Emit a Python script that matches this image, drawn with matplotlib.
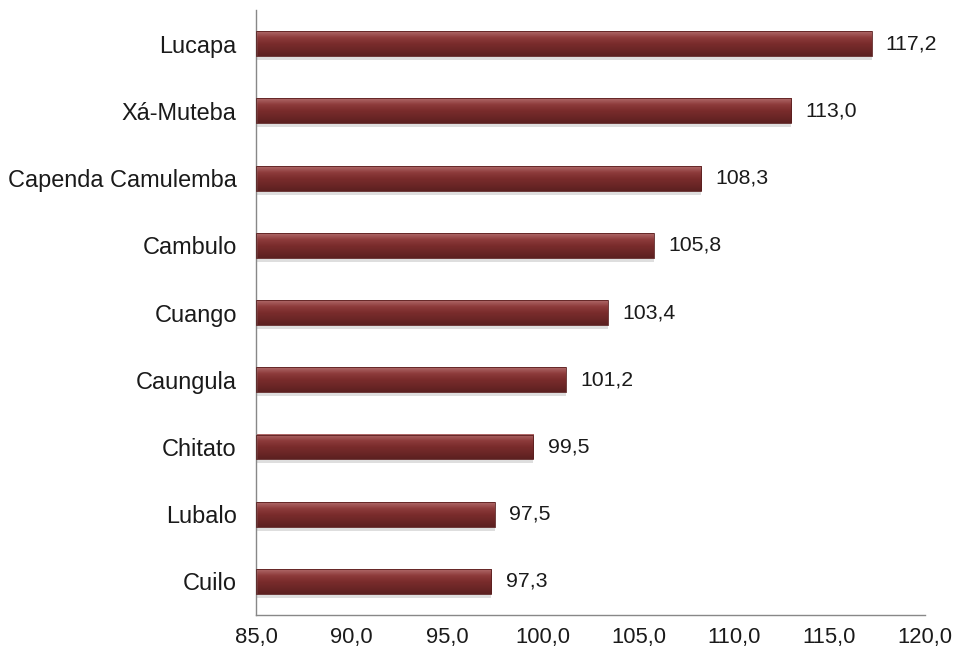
import numpy as np
import matplotlib.pyplot as plt
from matplotlib.colors import LinearSegmentedColormap

plt.rcParams['font.family'] = ['Liberation Sans', 'DejaVu Sans']

municipios = ["Lucapa", "Xá-Muteba", "Capenda Camulemba", "Cambulo", "Cuango",
              "Caungula", "Chitato", "Lubalo", "Cuilo"]
valores = [117.2, 113.0, 108.3, 105.8, 103.4, 101.2, 99.5, 97.5, 97.3]
x_ticks = [85, 90, 95, 100, 105, 110, 115, 120]

base = 85.0
h = 0.37

fig = plt.figure(figsize=(9.56, 6.51), dpi=100)
ax = fig.add_axes([0.268, 0.0553, 0.6996, 0.9293])

# vertical gradient for the "glossy" bars (top light -> bottom dark)
cmap = LinearSegmentedColormap.from_list(
    "bar", ["#b06a6a", "#8e3c3c", "#7a2c2c", "#6c2626", "#5c2020"])
grad = np.linspace(0, 1, 64).reshape(-1, 1)

ypos = np.arange(len(municipios))[::-1]
for y, v in zip(ypos, valores):
    # soft shadow under the bar
    ax.barh(y - 0.06, v - base, left=base, height=h, color="#c8c8c8",
            alpha=0.6, zorder=1, linewidth=0)
    ax.imshow(grad, cmap=cmap, aspect="auto", zorder=2,
              extent=(base, v, y - h / 2, y + h / 2), origin="upper")
    ax.barh(y, v - base, left=base, height=h, facecolor="none",
            edgecolor="#5a1e1e", linewidth=0.6, zorder=3)
    ax.text(v + 0.75, y, f"{v:.1f}".replace(".", ","), va="center",
            ha="left", fontsize=15.3, color="#1a1a1a")

ax.set_xlim(85, 120)
ax.set_ylim(-0.5, len(municipios) - 0.5)
ax.set_xticks(x_ticks)
ax.set_xticklabels([f"{t:.1f}".replace(".", ",") for t in x_ticks],
                   fontsize=15.8, color="#1a1a1a")
ax.set_yticks(ypos)
ax.set_yticklabels(municipios, fontsize=16.9, color="#1a1a1a")
ax.tick_params(length=0)
ax.tick_params(axis="y", pad=14)
ax.tick_params(axis="x", pad=9)

for s in ["top", "right"]:
    ax.spines[s].set_visible(False)
for s in ["left", "bottom"]:
    ax.spines[s].set_color("#888888")
    ax.spines[s].set_linewidth(1)

fig.savefig("out.png", dpi=100)
